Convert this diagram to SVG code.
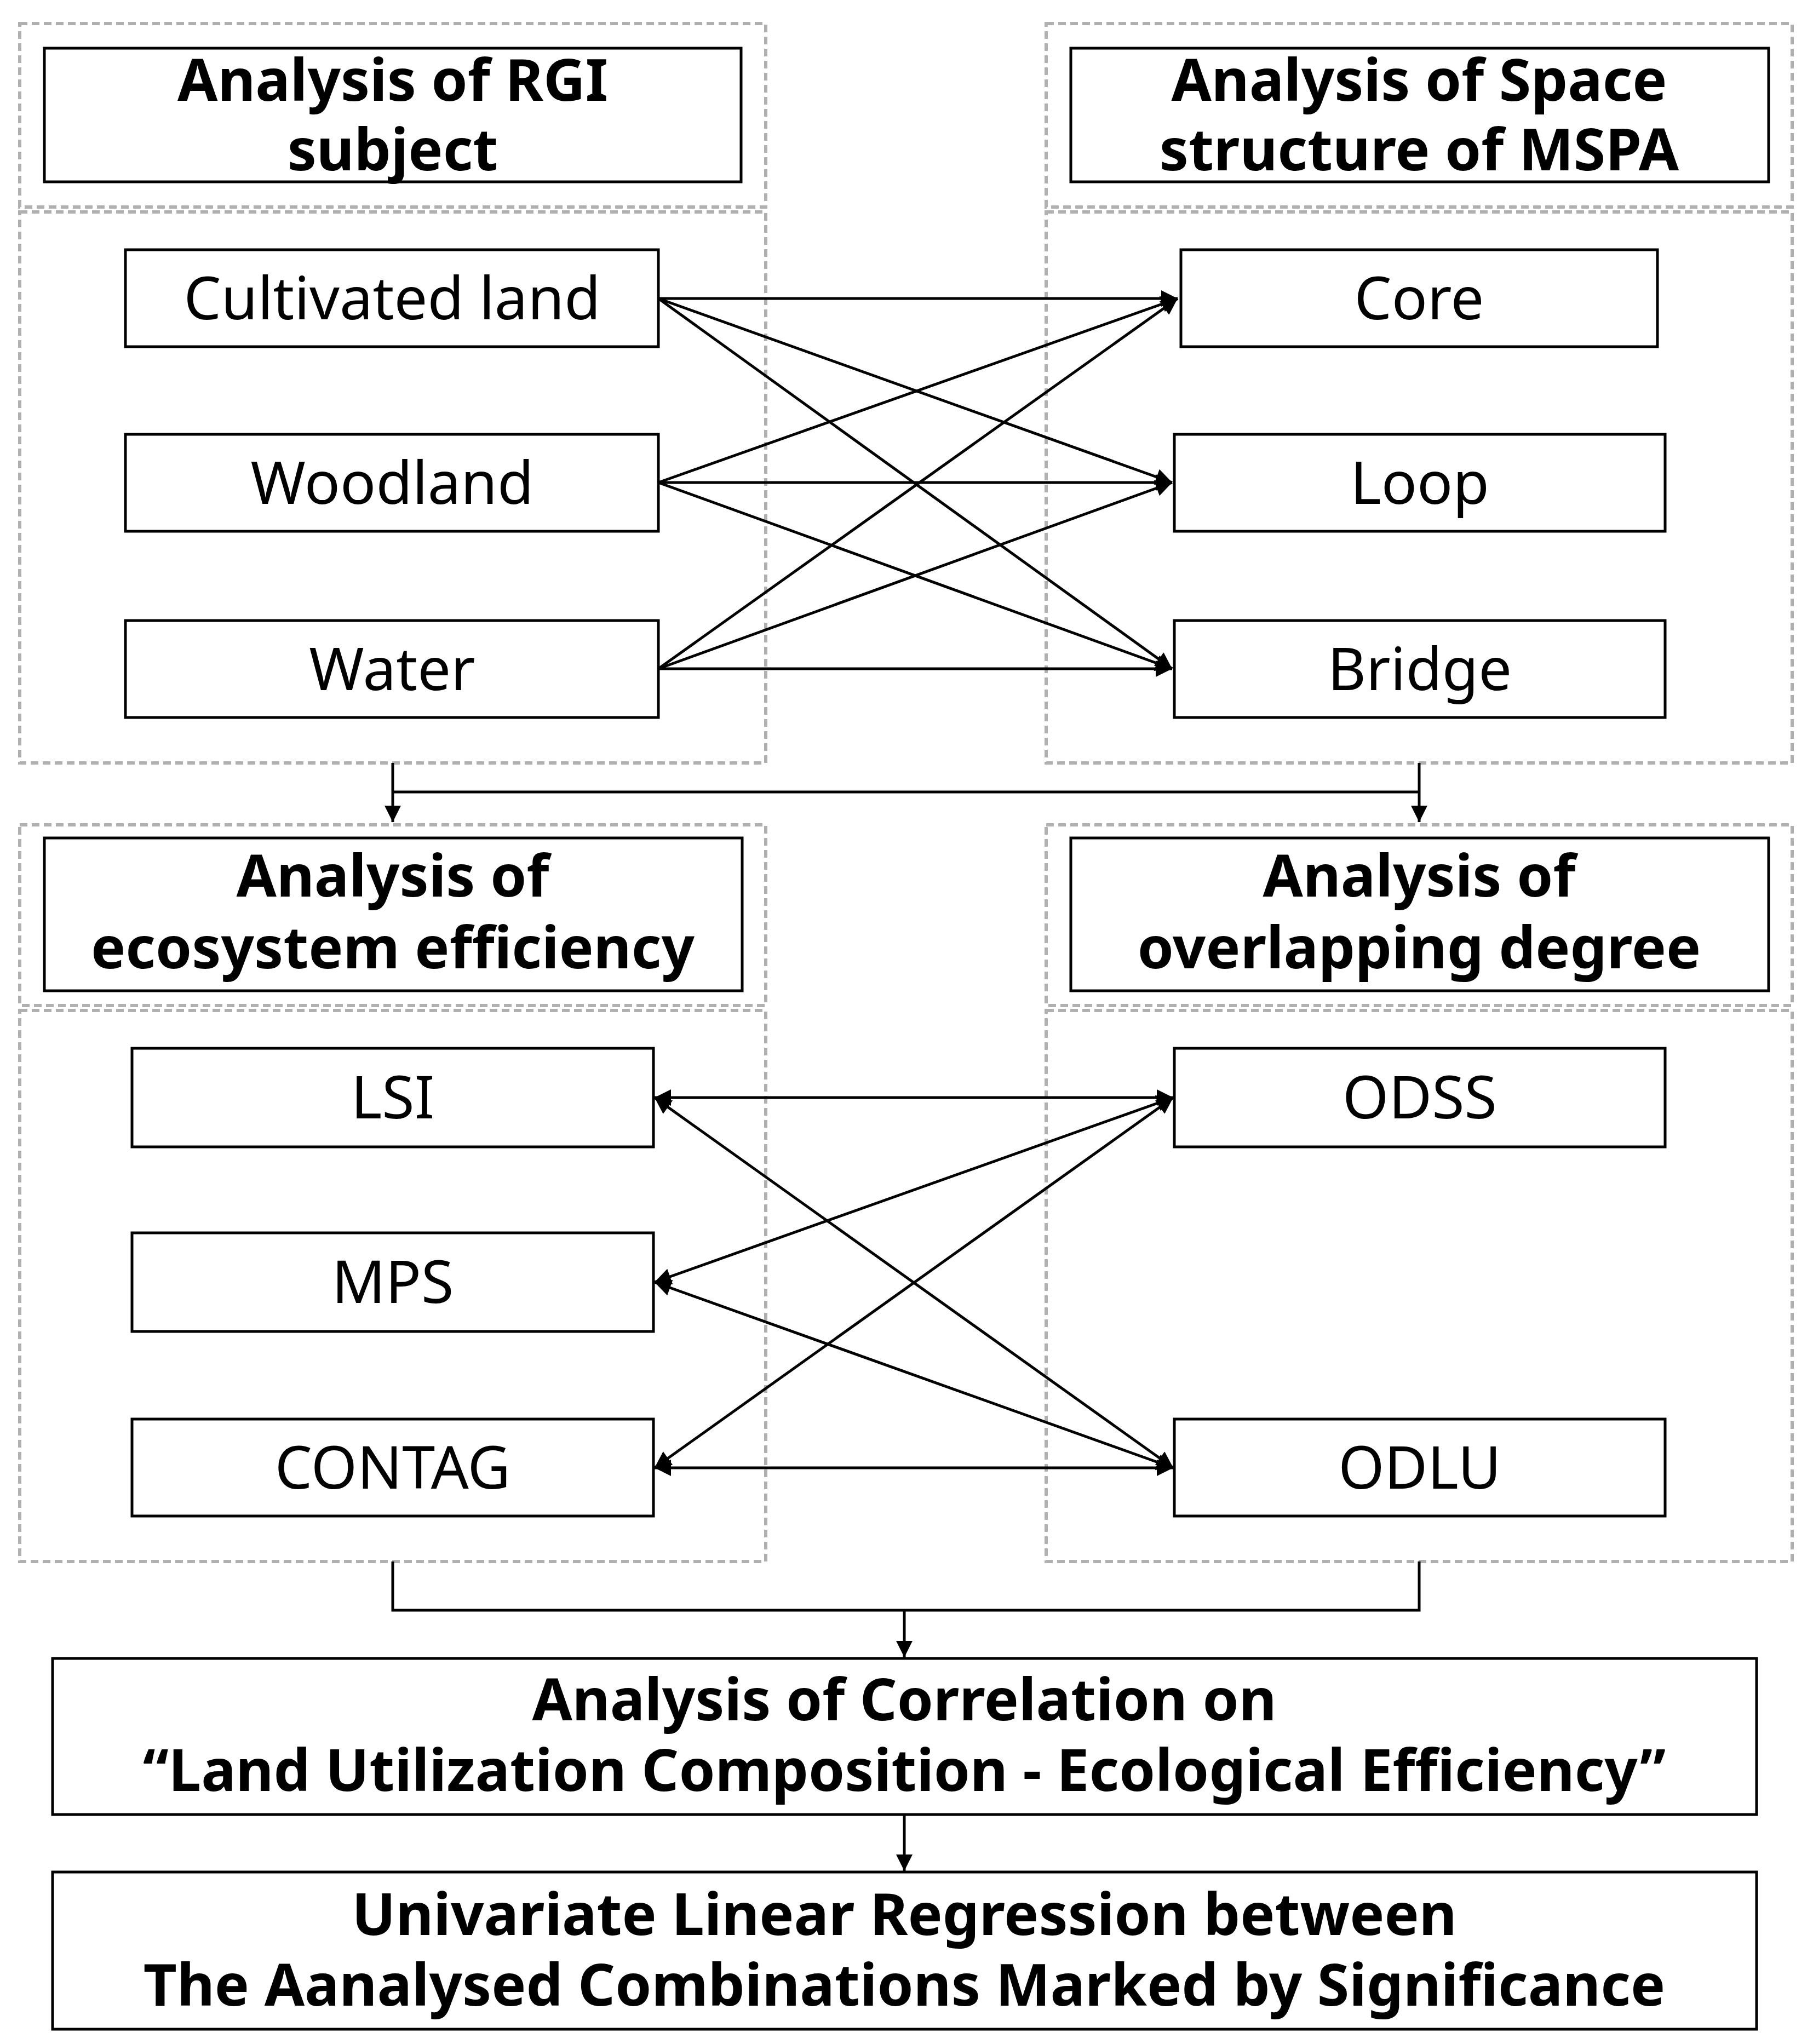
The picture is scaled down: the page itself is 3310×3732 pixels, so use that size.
<svg xmlns="http://www.w3.org/2000/svg" width="3310" height="3732" viewBox="0 0 3310 3732">
<style>
.d{fill:none;stroke:#b0b0b0;stroke-width:6;stroke-dasharray:14 8}
.b{fill:#fff;stroke:#000;stroke-width:5}
.t{font-family:"Noto Sans","Open Sans",sans-serif;font-size:108px;text-anchor:middle;fill:#000}
.h{font-family:"Noto Sans","Open Sans",sans-serif;font-size:106px;font-weight:bold;text-anchor:middle;fill:#000}
.c{fill:none;stroke:#000;stroke-width:5}
</style>
<defs>
<marker id="a" viewBox="0 0 10 10" refX="10" refY="5" markerWidth="36" markerHeight="30" markerUnits="userSpaceOnUse" orient="auto-start-reverse"><path d="M0,0 L10,5 L0,10 z" fill="#000"/></marker>
</defs>
<g id="frames">
<rect class="d" x="36" y="43" width="1362" height="335"/>
<rect class="d" x="36" y="387" width="1362" height="1006"/>
<rect class="d" x="1910" y="43" width="1362" height="335"/>
<rect class="d" x="1910" y="387" width="1362" height="1006"/>
<rect class="d" x="36" y="1506" width="1362" height="330"/>
<rect class="d" x="36" y="1845" width="1362" height="1006"/>
<rect class="d" x="1910" y="1506" width="1362" height="330"/>
<rect class="d" x="1910" y="1845" width="1362" height="1006"/>
</g>
<g id="connectors">
<path class="c" d="M1202,545 L2150,545" marker-end="url(#a)"/>
<path class="c" d="M1202,545 L2140,881" marker-end="url(#a)"/>
<path class="c" d="M1202,545 L2140,1221" marker-end="url(#a)"/>
<path class="c" d="M1202,881 L2150,545" marker-end="url(#a)"/>
<path class="c" d="M1202,881 L2140,881" marker-end="url(#a)"/>
<path class="c" d="M1202,881 L2140,1221" marker-end="url(#a)"/>
<path class="c" d="M1202,1221 L2150,545" marker-end="url(#a)"/>
<path class="c" d="M1202,1221 L2140,881" marker-end="url(#a)"/>
<path class="c" d="M1202,1221 L2140,1221" marker-end="url(#a)"/>
<path class="c" d="M717,1393 L717,1501" marker-end="url(#a)"/>
<path class="c" d="M2591,1393 L2591,1501" marker-end="url(#a)"/>
<path class="c" d="M717,1446 L2591,1446"/>
<path class="c" d="M1195,2004 L2142,2004" marker-start="url(#a)" marker-end="url(#a)"/>
<path class="c" d="M1195,2004 L2142,2680" marker-start="url(#a)" marker-end="url(#a)"/>
<path class="c" d="M1195,2341 L2142,2004" marker-start="url(#a)" marker-end="url(#a)"/>
<path class="c" d="M1195,2341 L2142,2680" marker-start="url(#a)" marker-end="url(#a)"/>
<path class="c" d="M1195,2680 L2142,2004" marker-start="url(#a)" marker-end="url(#a)"/>
<path class="c" d="M1195,2680 L2142,2680" marker-start="url(#a)" marker-end="url(#a)"/>
<path class="c" d="M717,2851 L717,2940 L2591,2940 L2591,2851"/>
<path class="c" d="M1651,2940 L1651,3026" marker-end="url(#a)"/>
<path class="c" d="M1651,3313 L1651,3416" marker-end="url(#a)"/>
</g>
<g id="h1"><rect class="b" x="81" y="88" width="1272" height="244"/><text class="h" x="717" y="184">Analysis of RGI</text><text class="h" x="717" y="311">subject</text></g>
<g id="h2"><rect class="b" x="1955" y="88" width="1274" height="244"/><text class="h" x="2591" y="184">Analysis of Space</text><text class="h" x="2591" y="311">structure of MSPA</text></g>
<g id="n1"><rect class="b" x="229" y="456" width="973" height="177"/><text class="t" x="716" y="583">Cultivated land</text></g>
<g id="n2"><rect class="b" x="229" y="793" width="973" height="177"/><text class="t" x="716" y="920">Woodland</text></g>
<g id="n3"><rect class="b" x="229" y="1133" width="973" height="177"/><text class="t" x="716" y="1260">Water</text></g>
<g id="n4"><rect class="b" x="2156" y="456" width="870" height="177"/><text class="t" x="2591" y="583">Core</text></g>
<g id="n5"><rect class="b" x="2144" y="793" width="896" height="177"/><text class="t" x="2592" y="920">Loop</text></g>
<g id="n6"><rect class="b" x="2144" y="1133" width="896" height="177"/><text class="t" x="2592" y="1260">Bridge</text></g>
<g id="h3"><rect class="b" x="81" y="1530" width="1274" height="279"/><text class="h" x="717" y="1637">Analysis of</text><text class="h" x="717" y="1768">ecosystem efficiency</text></g>
<g id="h4"><rect class="b" x="1955" y="1530" width="1274" height="279"/><text class="h" x="2591" y="1637">Analysis of</text><text class="h" x="2591" y="1768">overlapping degree</text></g>
<g id="n7"><rect class="b" x="241" y="1914" width="952" height="180"/><text class="t" x="717" y="2042">LSI</text></g>
<g id="n8"><rect class="b" x="241" y="2251" width="952" height="180"/><text class="t" x="717" y="2379">MPS</text></g>
<g id="n9"><rect class="b" x="241" y="2591" width="952" height="177"/><text class="t" x="717" y="2718">CONTAG</text></g>
<g id="n10"><rect class="b" x="2144" y="1914" width="896" height="180"/><text class="t" x="2592" y="2042">ODSS</text></g>
<g id="n11"><rect class="b" x="2144" y="2591" width="896" height="177"/><text class="t" x="2592" y="2718">ODLU</text></g>
<g id="n12"><rect class="b" x="96" y="3028" width="3111" height="285"/><text class="h" x="1651" y="3141">Analysis of Correlation on</text><text class="h" x="1651" y="3270">“Land Utilization Composition - Ecological Efficiency”</text></g>
<g id="n13"><rect class="b" x="96" y="3418" width="3111" height="287"/><text class="h" x="1651" y="3533">Univariate Linear Regression between</text><text class="h" x="1651" y="3662">The Aanalysed Combinations Marked by Significance</text></g>
</svg>
